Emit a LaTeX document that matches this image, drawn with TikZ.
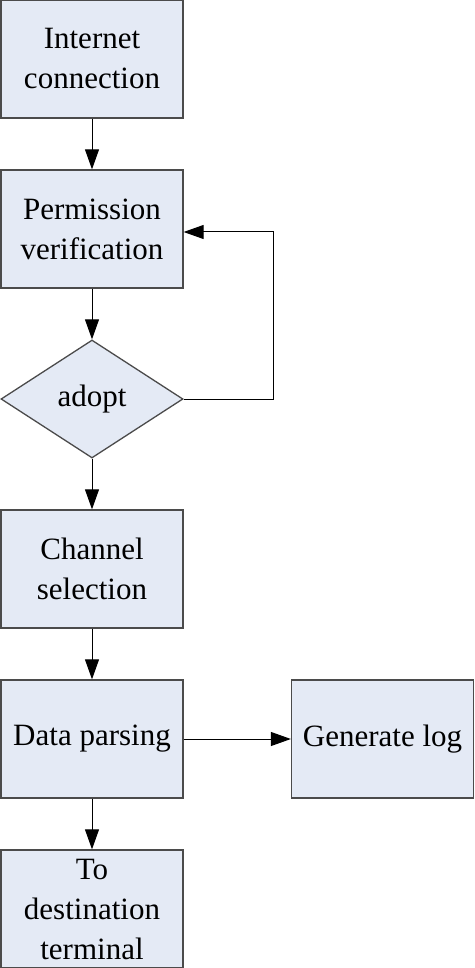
\documentclass[tikz,border=0pt]{standalone}
\usepackage{fontspec}
\setmainfont{Liberation Serif}
\usepackage{tikz}
\usetikzlibrary{shapes.geometric,arrows.meta}
\definecolor{boxfill}{RGB}{228,234,245}
\definecolor{boxline}{RGB}{75,75,75}
\tikzset{
	flowbox/.style={draw=boxline, line width=1.3pt, fill=boxfill, minimum width=182pt, minimum height=118pt, inner sep=0pt, align=center, font=\fontsize{31}{40}\selectfont},
	decide/.style={flowbox, diamond, aspect=1.54},
	arr/.style={black, line width=1pt, -{Triangle[length=20pt,width=14pt]}}
}

\begin{document}
\begin{tikzpicture}[x=1pt, y=-1pt]
\useasboundingbox (0,0) rectangle (474,968);
\node[flowbox] (inet) at (92,59) {Internet\\connection};
\node[flowbox] (perm) at (92,229) {Permission\\verification};
\node[decide] (adopt) at (92,399) {adopt};
\node[flowbox] (chan) at (92,569) {Channel\\selection};
\node[flowbox] (parse) at (92,739) {Data parsing};
\node[flowbox] (genlog) at (382.5,739) {Generate log};
\node[flowbox] (dest) at (92,909) {To\\destination\\terminal};

\draw[arr] (inet)--(perm);
\draw[arr] (perm)--(adopt);
\draw[arr] (adopt.east) -- ++(90,0) |- ([yshift=-3pt]perm.east);
\draw[arr] (adopt)--(chan);
\draw[arr] (chan)--(parse);
\draw[arr] (parse)--(genlog);
\draw[arr] (parse)--(dest);
\end{tikzpicture}
\end{document}
